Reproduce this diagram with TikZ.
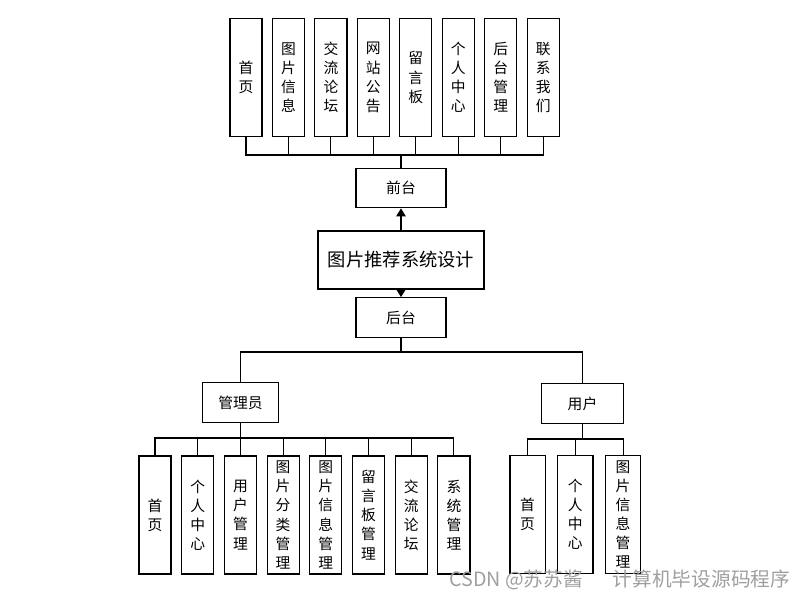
\documentclass[tikz,border=0pt]{standalone}
\usepackage{fontspec}
\setmainfont{Noto Sans CJK SC}
\usetikzlibrary{arrows.meta, positioning, calc}

\begin{document}
\begin{tikzpicture}[
    x=0.025cm, y=-0.025cm,
    every node/.style={font=\fontsize{10.5}{13.6}\selectfont},
    box/.style={draw, line width=0.85pt, inner sep=0pt, align=center, fill=white},
    vbox/.style={box, minimum width=0.8cm, minimum height=2.96cm},
    hbox/.style={box, minimum width=2.25cm, minimum height=0.99cm},
    link/.style={line width=0.8pt},
    arrow/.style={line width=0.8pt, -{Triangle[width=0.24cm, length=0.2cm]}},
    ]
    \useasboundingbox (0,0) rectangle (808,599);

    % Front modules
    \foreach \t [count=\i] in {首\\页, 图\\片\\信\\息, 交\\流\\论\\坛, 网\\站\\公\\告,
                               留\\言\\板, 个\\人\\中\\心, 后\\台\\管\\理, 联\\系\\我\\们} {
        \node[vbox] (top\i) at ({246+(\i-1)*42.45}, 77.5) {\t};
    }

    % Centre
    \node[hbox] (front) at (401, 188) {前台};
    \node[box, minimum width=4.15cm, minimum height=1.45cm,
          font=\fontsize{13}{15}\selectfont] (sys) at (401, 260) {图片推荐系统设计};
    \node[hbox] (back) at (401, 317.5) {后台};

    \coordinate (fbus) at (401, 155);
    \foreach \i in {1,...,8} {
        \draw[link] (top\i.south) |- (fbus);
    }
    \draw[link] (fbus) -- (front.north);
    \draw[arrow] (sys.north) -- (front.south);
    \draw[arrow] (sys.south) -- (back.north);

    % Roles
    \node[hbox, minimum width=1.88cm] (admin) at (240.5, 402.5) {管理员};
    \node[hbox, minimum width=2.03cm] (user) at (582.5, 403.5) {用户};
    \coordinate (bbus) at (401, 352);
    \draw[link] (back.south) -- (bbus);
    \draw[link] (bbus) -| (admin.north);
    \draw[link] (bbus) -| (user.north);

    % Admin modules
    \foreach \t [count=\i] in {首\\页, 个\\人\\中\\心, 用\\户\\管\\理, 图\\片\\分\\类\\管\\理,
                               图\\片\\信\\息\\管\\理, 留\\言\\板\\管\\理, 交\\流\\论\\坛, 系\\统\\管\\理} {
        \node[vbox, minimum height=2.95cm] (adm\i) at ({155+(\i-1)*42.7}, 515) {\t};
    }
    \coordinate (abus) at (240.5, 438);
    \draw[link] (admin.south) -- (abus);
    \foreach \i in {1,...,8} {
        \draw[link] (abus) -| (adm\i.north);
    }

    % User modules
    \foreach \t [count=\i] in {首\\页, 个\\人\\中\\心, 图\\片\\信\\息\\管\\理} {
        \node[vbox, minimum width=0.88cm] (usr\i) at ({527.5+(\i-1)*47.8}, 514.5) {\t};
    }
    \coordinate (ubus) at (582.5, 439);
    \draw[link] (user.south) -- (ubus);
    \foreach \i in {1,...,3} {
        \draw[link] (ubus) -| (usr\i.north);
    }

    % Watermark
    \node[text=gray!75, font=\fontsize{14}{16}\selectfont, anchor=west, inner sep=0pt] (mark)
        at (449, 580) {CSDN @苏苏酱\hspace{0.75cm}计算机毕设源码程序};
\end{tikzpicture}
\end{document}
